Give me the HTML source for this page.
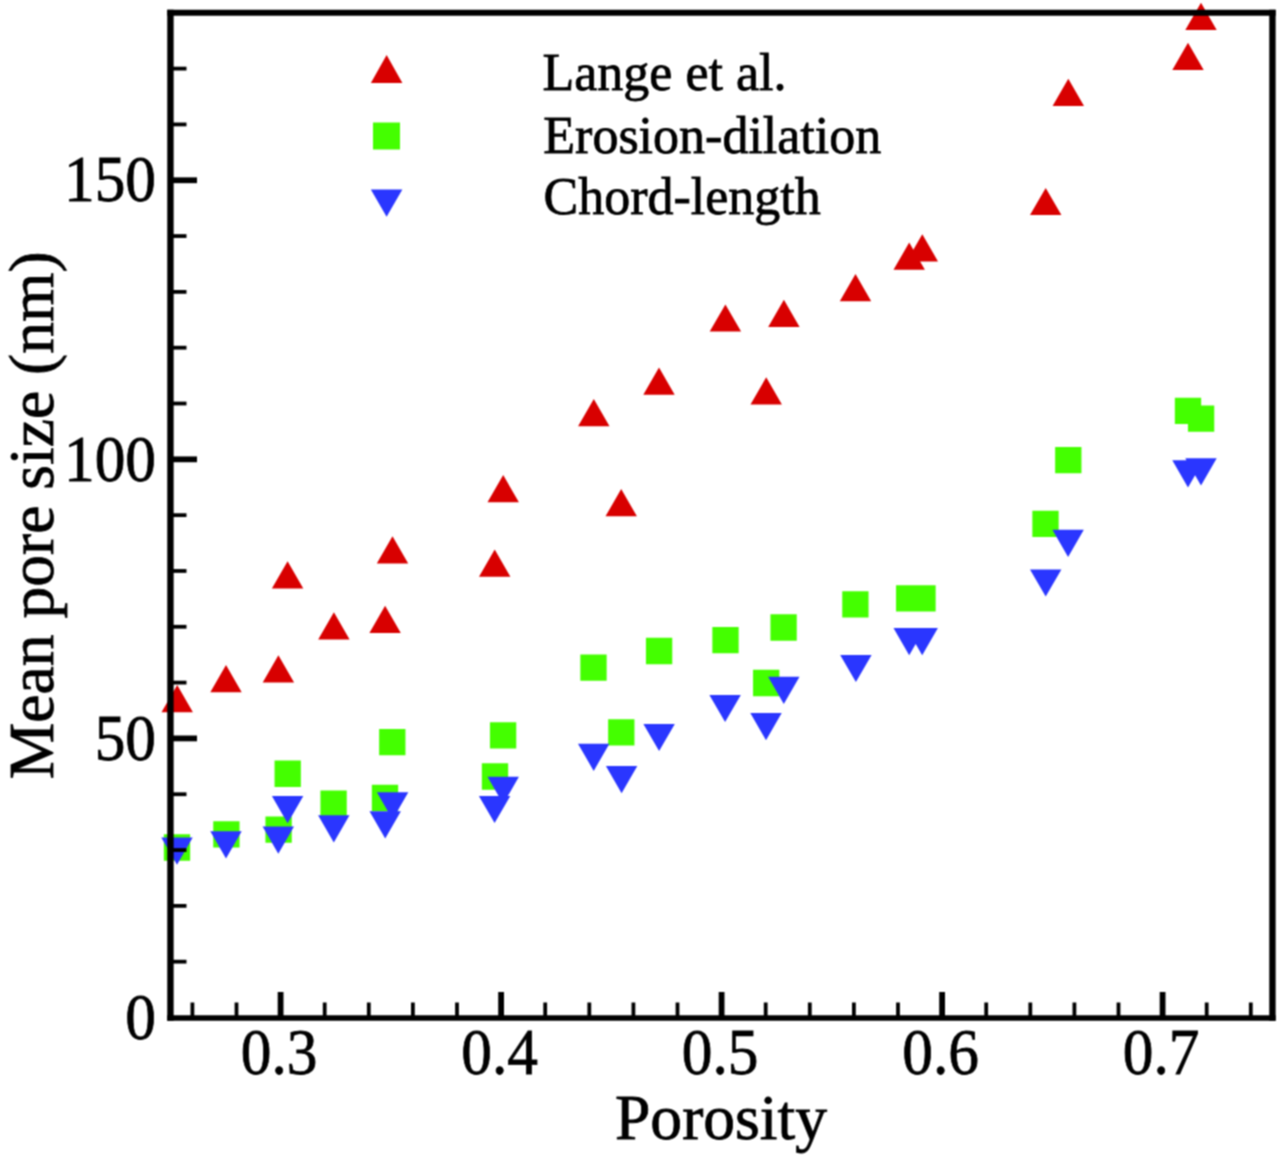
<!DOCTYPE html>
<html><head><meta charset="utf-8"><title>Mean pore size vs porosity</title>
<style>
html,body{margin:0;padding:0;background:#fff;}
body{width:1280px;height:1159px;overflow:hidden;}
svg{display:block;font-family:"Liberation Serif",serif;}
</style></head><body>
<svg width="1280" height="1159" viewBox="0 0 1280 1159">
<defs><filter id="b" x="0" y="0" width="100%" height="100%" color-interpolation-filters="sRGB"><feConvolveMatrix order="3" kernelMatrix="1 2 1 2 4 2 1 2 1" divisor="16" edgeMode="duplicate" preserveAlpha="true"/></filter></defs>
<g filter="url(#b)">
<rect x="-8" y="-8" width="1296" height="1175" fill="#fff"/>
<path fill="#d80000" d="M161.5 712.2L177.2 685L192.9 712.2ZM210.3 692.2L226 665L241.7 692.2ZM262.7 682.5L278.4 655.3L294.1 682.5ZM271.9 588.5L287.6 561.3L303.3 588.5ZM318.2 639.4L333.9 612.2L349.6 639.4ZM369.4 632.9L385.1 605.7L400.8 632.9ZM376.8 563.5L392.5 536.3L408.2 563.5ZM479 576.7L494.7 549.5L510.4 576.7ZM487.5 502.3L503.2 475.1L518.9 502.3ZM578.1 426.2L593.8 399L609.5 426.2ZM605.5 516.3L621.2 489.1L636.9 516.3ZM643.3 394.8L659 367.6L674.7 394.8ZM709.7 331.6L725.4 304.4L741.1 331.6ZM768.2 326.9L783.9 299.7L799.6 326.9ZM750.5 404.5L766.2 377.3L781.9 404.5ZM839.8 301.2L855.5 274L871.2 301.2ZM893.5 269.8L909.2 242.6L924.9 269.8ZM906.6 261.4L922.3 234.2L938 261.4ZM1030 215.1L1045.7 187.9L1061.4 215.1ZM1052.6 105.9L1068.3 78.7L1084 105.9ZM1185.3 30L1201 2.8L1216.7 30ZM1172.3 70L1188 42.8L1203.7 70Z"/>
<path fill="#44ff00" d="M163.85 834.35h26.3v26.3h-26.3ZM213.25 821.25h26.3v26.3h-26.3ZM274.55 760.6h26.3v26.3h-26.3ZM265.45 816.55h26.3v26.3h-26.3ZM320.45 790.45h26.3v26.3h-26.3ZM379.15 729.05h26.3v26.3h-26.3ZM371.85 784.85h26.3v26.3h-26.3ZM489.95 722.15h26.3v26.3h-26.3ZM481.85 763.35h26.3v26.3h-26.3ZM580.35 654.45h26.3v26.3h-26.3ZM645.95 637.85h26.3v26.3h-26.3ZM608.15 719.25h26.3v26.3h-26.3ZM712.35 627.05h26.3v26.3h-26.3ZM770.45 614.35h26.3v26.3h-26.3ZM753.05 669.85h26.3v26.3h-26.3ZM842.25 591.25h26.3v26.3h-26.3ZM896.05 585.25h26.3v26.3h-26.3ZM909.35 585.25h26.3v26.3h-26.3ZM1055.15 446.95h26.3v26.3h-26.3ZM1032.35 510.65h26.3v26.3h-26.3ZM1174.85 397.75h26.3v26.3h-26.3ZM1187.95 405.55h26.3v26.3h-26.3Z"/>
<path fill="#2a36ff" d="M161.3 837.5L177 864.7L192.7 837.5ZM210.3 831.25L226 858.45L241.7 831.25ZM271.9 796L287.6 823.2L303.3 796ZM262.6 826.5L278.3 853.7L294 826.5ZM318.1 815.3L333.8 842.5L349.5 815.3ZM376.9 792.2L392.6 819.4L408.3 792.2ZM369.5 811.2L385.2 838.4L400.9 811.2ZM487.5 776.8L503.2 804L518.9 776.8ZM478.9 795.9L494.6 823.1L510.3 795.9ZM578 743.7L593.7 770.9L609.4 743.7ZM605.9 766.1L621.6 793.3L637.3 766.1ZM643.4 723.9L659.1 751.1L674.8 723.9ZM709.4 694.9L725.1 722.1L740.8 694.9ZM768.1 676.7L783.8 703.9L799.5 676.7ZM750.3 713L766 740.2L781.7 713ZM840.2 654.9L855.9 682.1L871.6 654.9ZM893.5 628L909.2 655.2L924.9 628ZM906.5 628L922.2 655.2L937.9 628ZM1052.4 529.8L1068.1 557L1083.8 529.8ZM1030 569.4L1045.7 596.6L1061.4 569.4ZM1172.3 460.3L1188 487.5L1203.7 460.3ZM1185.3 458.2L1201 485.4L1216.7 458.2Z"/>
<path fill="#d80000" d="M370.85 82.9L386.6 54.9L402.35 82.9Z"/>
<path fill="#44ff00" d="M373 122.5h27v27h-27Z"/>
<path fill="#2a36ff" d="M370.85 189.4L386.6 216.8L402.35 189.4Z"/>
<g stroke="#000"><line x1="170" y1="961.68" x2="186.5" y2="961.68" stroke-width="3.8"/><line x1="170" y1="905.87" x2="186.5" y2="905.87" stroke-width="3.8"/><line x1="170" y1="850.05" x2="186.5" y2="850.05" stroke-width="3.8"/><line x1="170" y1="794.23" x2="186.5" y2="794.23" stroke-width="3.8"/><line x1="170" y1="738.41" x2="197" y2="738.41" stroke-width="5.8"/><line x1="170" y1="682.6" x2="186.5" y2="682.6" stroke-width="3.8"/><line x1="170" y1="626.78" x2="186.5" y2="626.78" stroke-width="3.8"/><line x1="170" y1="570.96" x2="186.5" y2="570.96" stroke-width="3.8"/><line x1="170" y1="515.15" x2="186.5" y2="515.15" stroke-width="3.8"/><line x1="170" y1="459.33" x2="197" y2="459.33" stroke-width="5.8"/><line x1="170" y1="403.51" x2="186.5" y2="403.51" stroke-width="3.8"/><line x1="170" y1="347.7" x2="186.5" y2="347.7" stroke-width="3.8"/><line x1="170" y1="291.88" x2="186.5" y2="291.88" stroke-width="3.8"/><line x1="170" y1="236.06" x2="186.5" y2="236.06" stroke-width="3.8"/><line x1="170" y1="180.25" x2="197" y2="180.25" stroke-width="5.8"/><line x1="170" y1="124.43" x2="186.5" y2="124.43" stroke-width="3.8"/><line x1="170" y1="68.61" x2="186.5" y2="68.61" stroke-width="3.8"/><line x1="192.4" y1="1018" x2="192.4" y2="1002.5" stroke-width="3.8"/><line x1="236.5" y1="1018" x2="236.5" y2="1002.5" stroke-width="3.8"/><line x1="280.6" y1="1018" x2="280.6" y2="992" stroke-width="5.8"/><line x1="324.7" y1="1018" x2="324.7" y2="1002.5" stroke-width="3.8"/><line x1="368.8" y1="1018" x2="368.8" y2="1002.5" stroke-width="3.8"/><line x1="412.9" y1="1018" x2="412.9" y2="1002.5" stroke-width="3.8"/><line x1="457" y1="1018" x2="457" y2="1002.5" stroke-width="3.8"/><line x1="501.1" y1="1018" x2="501.1" y2="992" stroke-width="5.8"/><line x1="545.2" y1="1018" x2="545.2" y2="1002.5" stroke-width="3.8"/><line x1="589.3" y1="1018" x2="589.3" y2="1002.5" stroke-width="3.8"/><line x1="633.4" y1="1018" x2="633.4" y2="1002.5" stroke-width="3.8"/><line x1="677.5" y1="1018" x2="677.5" y2="1002.5" stroke-width="3.8"/><line x1="721.6" y1="1018" x2="721.6" y2="992" stroke-width="5.8"/><line x1="765.7" y1="1018" x2="765.7" y2="1002.5" stroke-width="3.8"/><line x1="809.8" y1="1018" x2="809.8" y2="1002.5" stroke-width="3.8"/><line x1="853.9" y1="1018" x2="853.9" y2="1002.5" stroke-width="3.8"/><line x1="898" y1="1018" x2="898" y2="1002.5" stroke-width="3.8"/><line x1="942.1" y1="1018" x2="942.1" y2="992" stroke-width="5.8"/><line x1="986.2" y1="1018" x2="986.2" y2="1002.5" stroke-width="3.8"/><line x1="1030.3" y1="1018" x2="1030.3" y2="1002.5" stroke-width="3.8"/><line x1="1074.4" y1="1018" x2="1074.4" y2="1002.5" stroke-width="3.8"/><line x1="1118.5" y1="1018" x2="1118.5" y2="1002.5" stroke-width="3.8"/><line x1="1162.6" y1="1018" x2="1162.6" y2="992" stroke-width="5.8"/><line x1="1206.7" y1="1018" x2="1206.7" y2="1002.5" stroke-width="3.8"/><line x1="1250.8" y1="1018" x2="1250.8" y2="1002.5" stroke-width="3.8"/></g>
<g stroke="#000" fill="none"><line x1="170.45" y1="9.8" x2="170.45" y2="1020.8" stroke-width="6.4"/><line x1="1272.45" y1="9.8" x2="1272.45" y2="1020.8" stroke-width="6.4"/><line x1="167.25" y1="12.8" x2="1275.65" y2="12.8" stroke-width="6"/><line x1="167.25" y1="1018" x2="1275.65" y2="1018" stroke-width="5.5"/></g>
<g font-size="66" stroke="#000" stroke-width="0.8"><text transform="translate(156 1038.7) scale(0.93 1)" text-anchor="end">0</text><text transform="translate(156 759.6) scale(0.93 1)" text-anchor="end">50</text><text transform="translate(156 480.7) scale(0.93 1)" text-anchor="end">100</text><text transform="translate(156 200.5) scale(0.93 1)" text-anchor="end">150</text><text transform="translate(279.1 1073.6) scale(0.93 1)" text-anchor="middle">0.3</text><text transform="translate(499.6 1073.6) scale(0.93 1)" text-anchor="middle">0.4</text><text transform="translate(720.1 1073.6) scale(0.93 1)" text-anchor="middle">0.5</text><text transform="translate(940.6 1073.6) scale(0.93 1)" text-anchor="middle">0.6</text><text transform="translate(1161.1 1073.6) scale(0.93 1)" text-anchor="middle">0.7</text></g>
<g font-size="63.6" stroke="#000" stroke-width="0.8"><text x="721" y="1138.5" text-anchor="middle">Porosity</text><text transform="translate(53.3 515.3) rotate(-90)" text-anchor="middle">Mean pore size (nm)</text></g>
<g font-size="52" stroke="#000" stroke-width="0.8"><text x="542.5" y="89.7">Lange et al.</text><text x="543.3" y="153">Erosion-dilation</text><text x="543.5" y="214.2">Chord-length</text></g>
</g>
</svg>
</body></html>
